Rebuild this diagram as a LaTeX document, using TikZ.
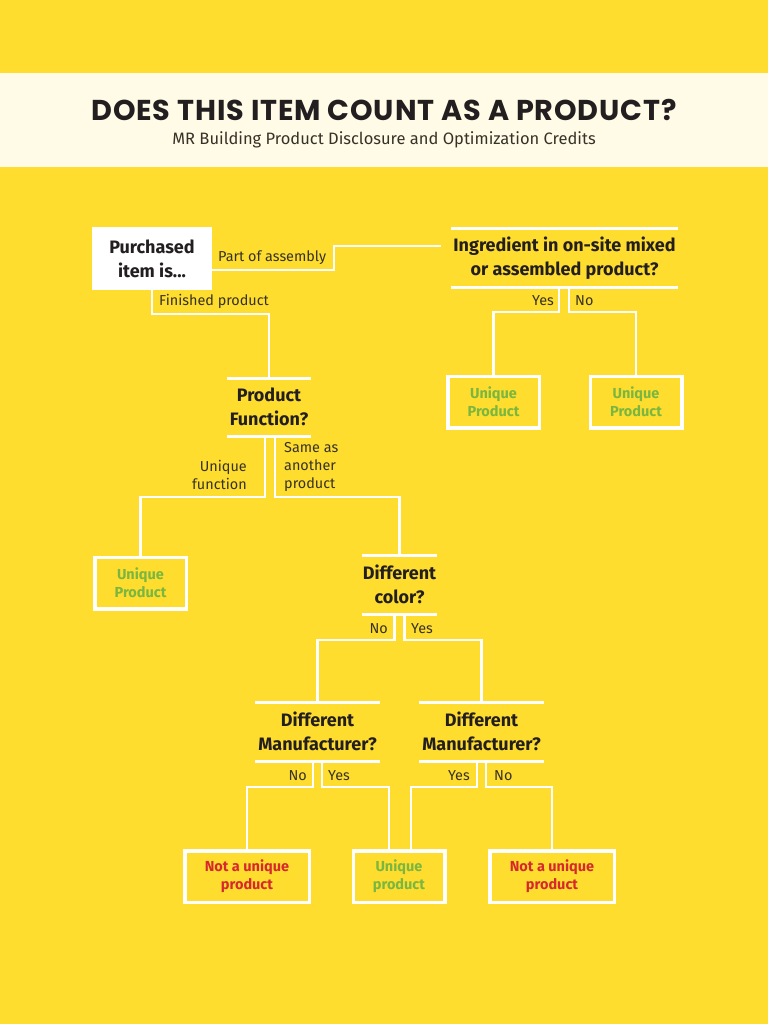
\documentclass[tikz,border=0pt]{standalone}
\usepackage{fontspec}
\setmainfont{Fira Sans}
\newfontfamily\titlefont[LetterSpace=3]{Poppins}
\definecolor{bgy}{RGB}{254,221,46}
\definecolor{cream}{RGB}{255,251,230}
\definecolor{ink}{RGB}{35,31,32}
\definecolor{ink2}{RGB}{55,50,40}
\definecolor{okgreen}{RGB}{122,182,64}
\definecolor{nored}{RGB}{214,40,46}
\begin{document}
\begin{tikzpicture}[x=1pt,y=-1pt,
  q/.style={inner sep=0pt, outer sep=0pt, align=center, text=ink, font=\bfseries\fontsize{18}{24}\selectfont},
  bar/.style={draw=white, line width=3pt},
  conn/.style={draw=white, line width=2.2pt},
  res/.style={draw=white, line width=3.5pt, inner sep=0pt, outer sep=0pt, minimum height=51.5pt, align=center, font=\bfseries\fontsize{14.5}{18}\selectfont},
  good/.style={res, text=okgreen, minimum width=91.5pt},
  bad/.style={res, text=nored, minimum width=124.5pt},
  lab/.style={inner sep=0pt, text=ink2, font=\fontsize{14.4}{18}\selectfont}
]
\fill[bgy] (0,0) rectangle (768,1024);
\useasboundingbox (0,0) rectangle (768,1024);
\fill[cream] (0,73) rectangle (768,167);
\node[inner sep=0pt, text=ink, font=\titlefont\bfseries\fontsize{28.7}{32}\selectfont] (title) at (384,109.5) {DOES THIS ITEM COUNT AS A PRODUCT?};
\node[inner sep=0pt, text=ink2, font=\fontsize{16.5}{20}\selectfont] (sub) at (384,139.5) {MR Building Product Disclosure and Optimization Credits};

% question nodes
\node[q, fill=white, minimum width=120pt, minimum height=63pt] (purch) at (152,258.5) {Purchased\\item is...};
\node[q, minimum width=227pt, minimum height=58pt] (ing) at (564.5,258) {Ingredient in on-site mixed\\or assembled product?};
\node[q, minimum width=84pt, minimum height=58pt] (pf) at (269,407) {Product\\Function?};
\node[q, minimum width=75pt, minimum height=59pt] (dc) at (399.5,584.5) {Different\\color?};
\node[q, minimum width=125pt, minimum height=59pt] (dm1) at (317.5,731.5) {Different\\Manufacturer?};
\node[q, minimum width=125pt, minimum height=59pt] (dm2) at (481.5,731.5) {Different\\Manufacturer?};
\foreach \n in {ing,pf,dc,dm1,dm2}{
  \draw[bar] (\n.north west) -- (\n.north east);
  \draw[bar] (\n.south west) -- (\n.south east);
}

% result nodes
\node[good] (u1) at (493.5,402) {Unique\\Product};
\node[good] (u2) at (636,402) {Unique\\Product};
\node[good] (u3) at (140.5,583) {Unique\\Product};
\node[bad] (na1) at (247,876.5) {Not a unique\\product};
\node[good] (ub) at (399,876.5) {Unique\\product};
\node[bad] (na2) at (552,876.5) {Not a unique\\product};

% connectors
\draw[conn] ([yshift=-11.5pt]purch.east) -- ++(122,0) |- ([xshift=-10pt,yshift=12pt]ing.west);
\draw[conn] (purch.south) -- ++(0,24) -| (pf.north);
\draw[conn] ([xshift=-5.5pt]ing.south) -- ++(0,25) -| (u1.north);
\draw[conn] ([xshift=4.5pt]ing.south) -- ++(0,25) -| (u2.north);
\draw[conn] ([xshift=-4pt]pf.south) -- ++(0,61) -| (u3.north);
\draw[conn] ([xshift=6pt]pf.south) -- ++(0,61) -| (dc.north);
\draw[conn] ([xshift=-5pt]dc.south) -- ++(0,26) -| (dm1.north);
\draw[conn] ([xshift=5pt]dc.south) -- ++(0,26) -| (dm2.north);
\draw[conn] ([xshift=-4.5pt]dm1.south) -- ++(0,26) -| (na1.north);
\draw[conn] ([xshift=4.5pt]dm1.south) -- ++(0,26) -| ([xshift=-10pt]ub.north);
\draw[conn] ([xshift=-4.5pt]dm2.south) -- ++(0,26) -| ([xshift=12pt]ub.north);
\draw[conn] ([xshift=4.5pt]dm2.south) -- ++(0,26) -| (na2.north);

% labels
\node[lab, anchor=west] (l1) at (218,257.5) {Part of assembly};
\node[lab, anchor=west] (l2) at (159,301) {Finished product};
\node[lab, anchor=east] (l3) at (554,300.5) {Yes};
\node[lab, anchor=west] (l4) at (575,300.5) {No};
\node[lab, anchor=east, align=right] (l5) at (247,475) {Unique\\function};
\node[lab, anchor=west, align=left] (l6) at (284,466.5) {Same as\\another\\product};
\node[lab, anchor=east] (l7) at (388,628.5) {No};
\node[lab, anchor=west] (l8) at (411,628.5) {Yes};
\node[lab, anchor=east] (l9) at (307,775.5) {No};
\node[lab, anchor=west] (l10) at (328,775.5) {Yes};
\node[lab, anchor=east] (l11) at (470,775.5) {Yes};
\node[lab, anchor=west] (l12) at (494,775.5) {No};
\end{tikzpicture}
\end{document}
